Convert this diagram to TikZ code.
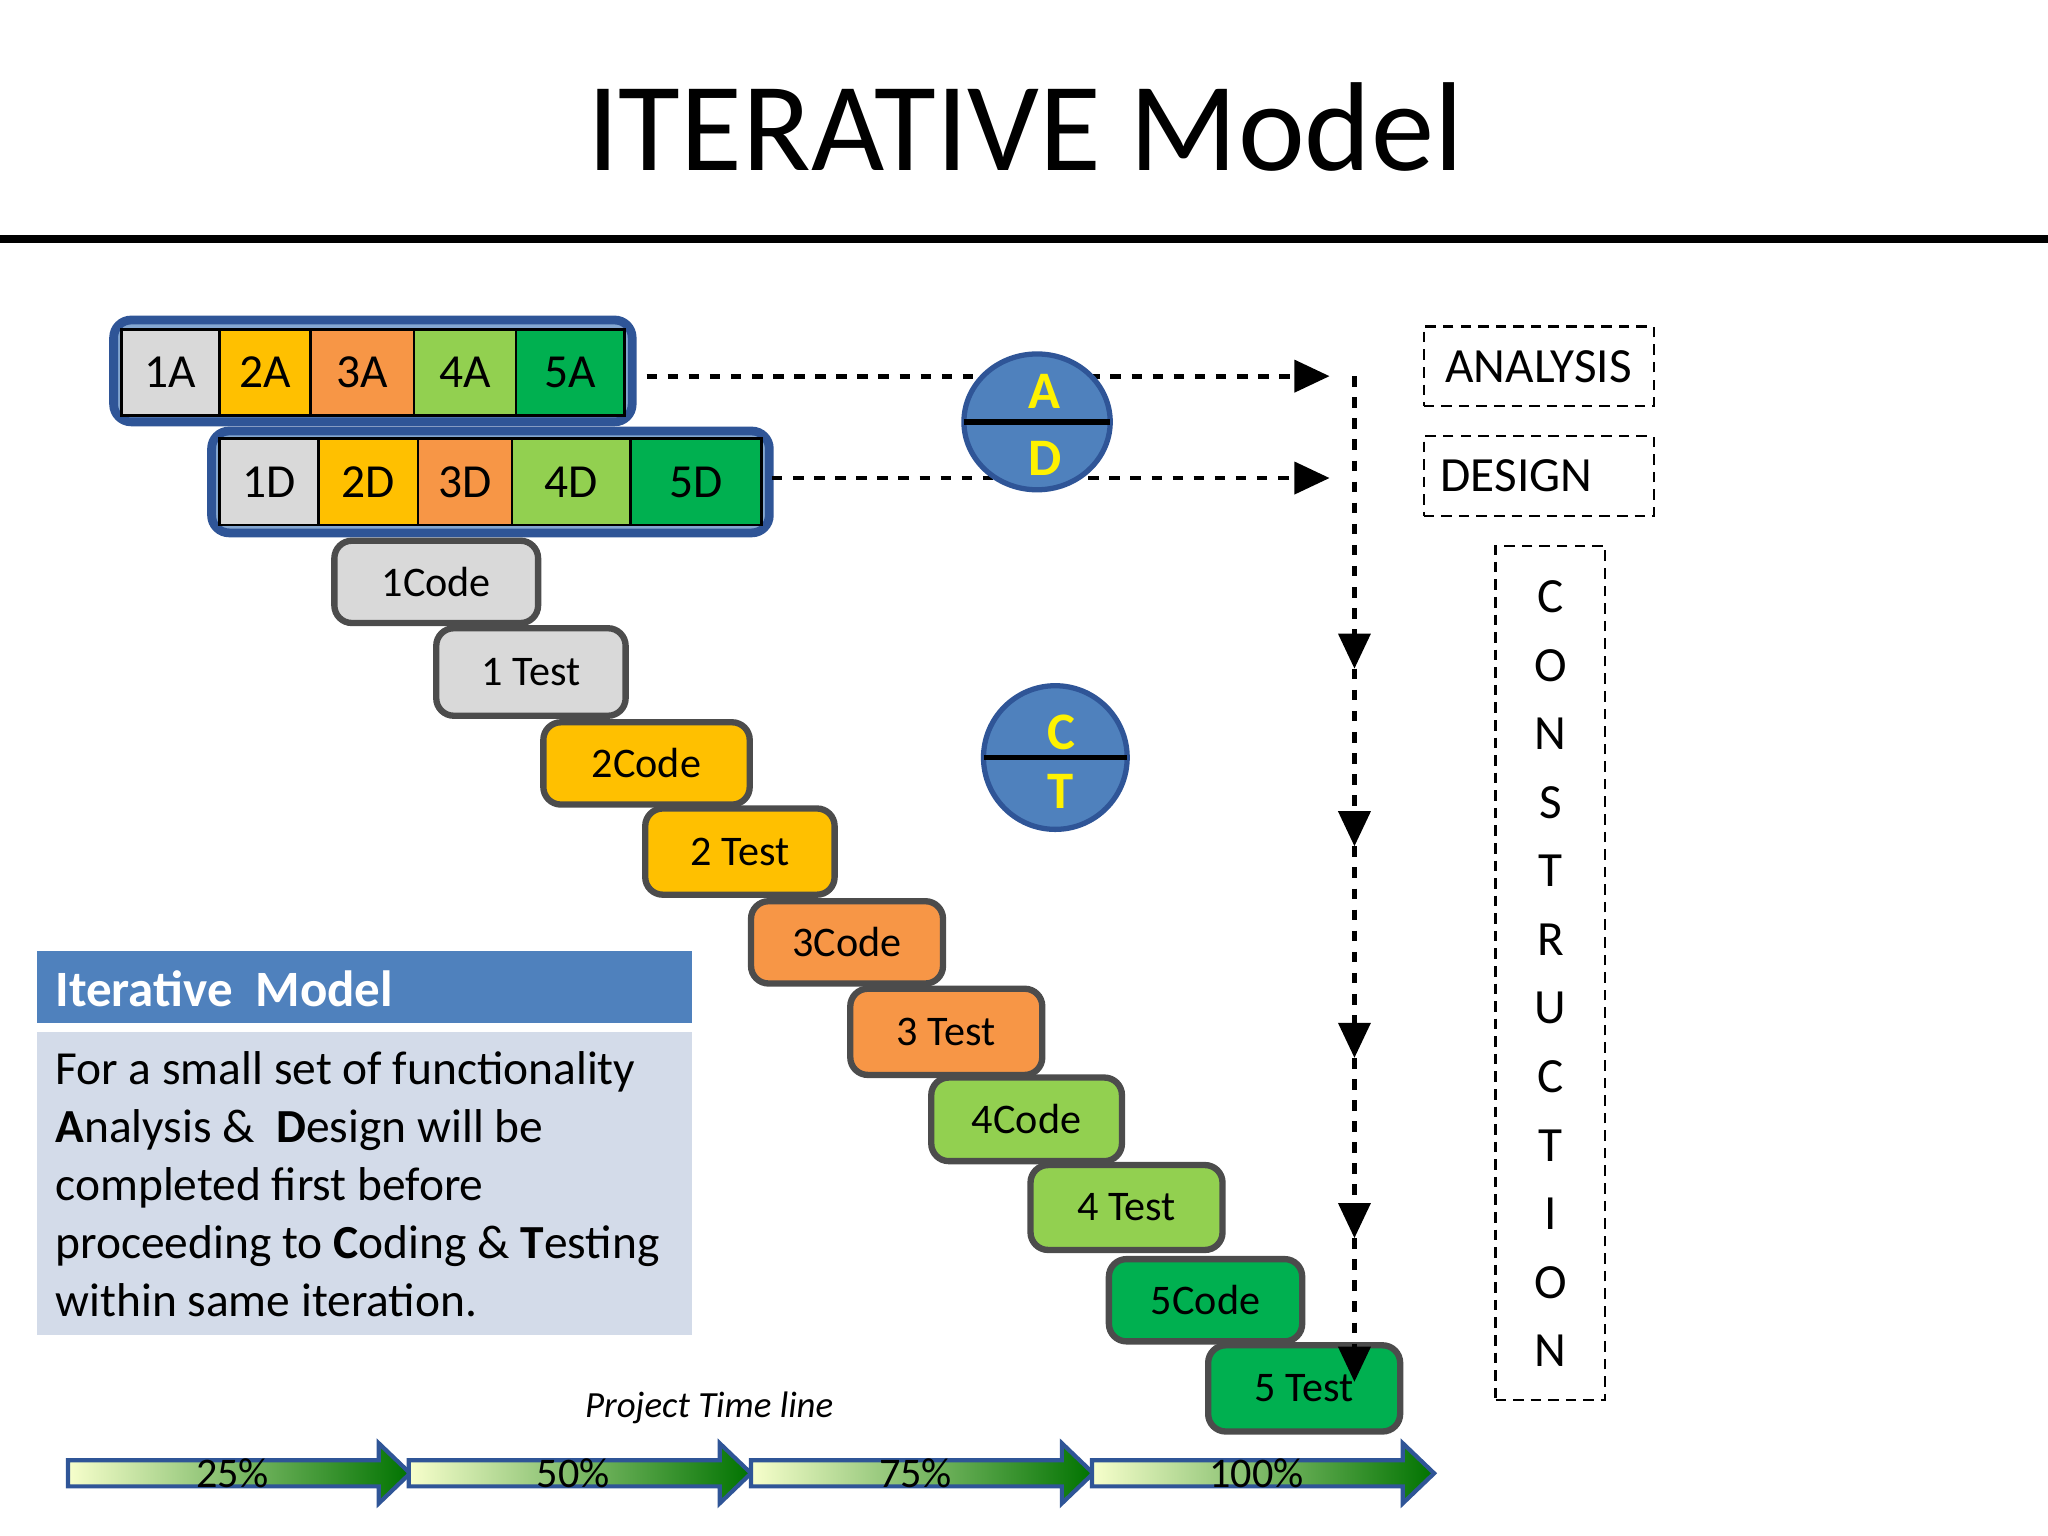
\documentclass[tikz,border=0pt]{standalone}
\usepackage{fontspec}
\setmainfont{Carlito}
\usetikzlibrary{arrows.meta}
\definecolor{cgray}{HTML}{D9D9D9}
\definecolor{cyel}{HTML}{FFC000}
\definecolor{corg}{HTML}{F79646}
\definecolor{clg}{HTML}{92D050}
\definecolor{cgr}{HTML}{00B050}
\definecolor{cblue}{HTML}{4F81BD}
\definecolor{cbd}{HTML}{2F5597}
\definecolor{cpanel}{HTML}{D3DBE9}
\begin{document}
\begin{tikzpicture}[x=0.013061cm,y=-0.013061cm,
  sz/.style 2 args={minimum width=(#1)*0.013061cm, minimum height=(#2)*0.013061cm, inner sep=0pt},
  rowframe/.style={draw=cbd, line width=2.5pt, fill=cblue!70, rounded corners=5pt},
  rowcell/.style={draw=black, line width=0.8pt, font=\fontsize{13.5}{16}\selectfont},
  stepbox/.style={draw=black!70, line width=1.8pt, rounded corners=5pt, font=\fontsize{12}{14}\selectfont},
  darr/.style={dashed, line width=1.4pt, -{Triangle[length=10pt,width=9pt]}},
  lbox/.style={draw, densely dashed, line width=0.6pt, font=\fontsize{14}{17}\selectfont},
  circ/.style={draw=cbd, line width=1.5pt, fill=cblue},
  cl/.style={text=yellow, font=\bfseries\fontsize{15}{17}\selectfont},
  tl/.style={draw=cbd, line width=1.2pt, left color=green!15!yellow!20, right color=green!45!black}]
\useasboundingbox (0,0) rectangle (1568,1176);
\node[font=\fontsize{36}{40}\selectfont] (title) at (785,97) {ITERATIVE Model};
\draw[line width=2pt] (0,183) -- (1568,183);

% A row
\node[rowframe, sz={397}{78}] (arow) at (285.5,284) {};
\foreach \a/\b/\c/\t/\n in {93/168/cgray/1A/a1,168/238/cyel/2A/a2,238/317/corg/3A/a3,317/395/clg/4A/a4,395/478/cgr/5A/a5}
  \node[rowcell, fill=\c, sz={\b-\a}{66}] (\n) at ({(\a+\b)/2},285) {\t};
% D row
\node[rowframe, sz={427}{78}] (drow) at (375.5,369) {};
\foreach \a/\b/\c/\t/\n in {168/244/cgray/1D/d1,244/320/cyel/2D/d2,320/392/corg/3D/d3,392/483/clg/4D/d4,483/583/cgr/5D/d5}
  \node[rowcell, fill=\c, sz={\b-\a}{66}] (\n) at ({(\a+\b)/2},369) {\t};

\coordinate (sa) at (495,288);
\coordinate (ea) at (1018,288);
\coordinate (sd) at (591,366);
\coordinate (ed) at (1018,366);
\draw[darr] (sa) -- (ea);
\draw[darr] (sd) -- (ed);

% circles
\filldraw[circ] (794,323) ellipse [x radius=56, y radius=52];
\draw[line width=1.5pt] (738,323) -- (850,323);
\node[cl] (ca) at (800,300) {A};
\node[cl] (cd) at (800,351) {D};
\filldraw[circ] (808,580) circle [radius=55];
\draw[line width=1.5pt] (753,580) -- (863,580);
\node[cl] (cc) at (813,561) {C};
\node[cl] (ct) at (812,606) {T};

% labels
\node[lbox, sz={176}{61}] (an) at (1178,280.5) {ANALYSIS};
\node[lbox, sz={176}{61}, text width=150*0.013061cm, align=left] (de) at (1178,364.5) {DESIGN};
\node[lbox, sz={84}{654}] (co) at (1187,745) {};
\foreach \l [count=\i from 0] in {C,O,N,S,T,R,U,C,T,I,O,N}
  \node[font=\fontsize{14}{17}\selectfont] (l\i) at (1187,{457+52.5*\i}) {\l};

% steps
\foreach \a/\b/\c/\d/\col/\t/\n in {256/414/412/477/cgray/1Code/s1,334/481/479/548/cgray/1 Test/s2,
  416/553/574/616/cyel/2Code/s3,494/619/639/685/cyel/2 Test/s4,575/690/722/753/corg/3Code/s5,
  651/757/798/823/corg/3 Test/s6,713/825/859/889/clg/4Code/s7,789/892/936/957/clg/4 Test/s8,
  849/964/997/1027/cgr/5Code/s9,925/1030/1072/1096/cgr/5 Test/s10}
  \node[stepbox, fill=\col, sz={\c-\a}{\d-\b}] (\n) at ({(\a+\c)/2},{(\b+\d)/2}) {\t};

% vertical dashed
\coordinate (v0) at (1037,288);
\coordinate (v1) at (1037,512);
\coordinate (v2) at (1037,648);
\coordinate (v3) at (1037,810);
\coordinate (v4) at (1037,948);
\coordinate (v5) at (1037,1058);
\draw[darr] (v0) -- (v1);
\draw[darr] (v1) -- (v2);
\draw[darr] (v2) -- (v3);
\draw[darr] (v3) -- (v4);
\draw[darr] (v4) -- (v5);

% panel
\node[fill=cblue, sz={502}{55}] (ph) at (279,755.5) {};
\node[anchor=west, inner sep=0pt, text=white, font=\bfseries\fontsize{14.5}{17}\selectfont] (pht) at (42,757) {Iterative\ \ Model};
\node[fill=cpanel, sz={502}{232}] (pb) at (279,906) {};
\node[anchor=west, inner sep=0pt, align=left, font=\fontsize{13.5}{16.5}\selectfont] (pbt) at (42,907)
  {For a small set of functionality\\ \textbf{A}nalysis \&\ \ \textbf{D}esign will be\\ completed first before\\ proceeding to \textbf{C}oding \& \textbf{T}esting\\ within same iteration.};

\node[font=\itshape\fontsize{10.5}{12}\selectfont] (ptl) at (543,1078) {Project Time line};
\foreach \s/\t/\n in {52/25\%/t1,313/50\%/t2,575/75\%/t3,836/100\%/t4}{
  \shade[tl] (\s,1118) -- (\s+238,1118) -- (\s+238,1105) -- (\s+262,1128) -- (\s+238,1151) -- (\s+238,1138) -- (\s,1138) -- cycle;
  \node[font=\fontsize{12}{14}\selectfont] (\n) at (\s+126,1128) {\t};
}
\end{tikzpicture}
\end{document}
